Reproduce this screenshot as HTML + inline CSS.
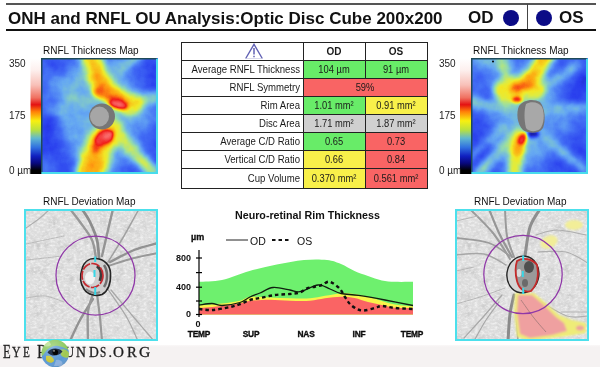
<!DOCTYPE html>
<html><head><meta charset="utf-8">
<style>
html,body{margin:0;padding:0;}
body{will-change:transform;width:600px;height:367px;overflow:hidden;background:#fff;position:relative;font-family:"Liberation Sans",sans-serif;color:#111;}
.a{position:absolute;white-space:nowrap;}
#hdr-top{position:absolute;left:6px;top:3px;width:590px;height:1.5px;background:#555;}
#hdr-bot{position:absolute;left:6px;top:29px;width:590px;height:2px;background:#111;}
#hdr-sep{position:absolute;left:527px;top:4px;width:1px;height:25px;background:#444;}
.title{left:8px;top:8.5px;font-size:17px;font-weight:bold;line-height:20px;}
.eye{font-size:17px;font-weight:bold;line-height:20px;top:8.3px;}
.dot{position:absolute;width:16px;height:16px;border-radius:50%;background:#0b0b86;top:9.5px;}
.maptitle{font-size:10px;line-height:12px;color:#111;}
.lbl{font-size:10px;line-height:12px;color:#222;}
.c{position:absolute;}
.hl{position:absolute;left:181px;width:247px;height:1px;background:#222;}
.vl{position:absolute;width:1px;background:#222;}
.t{position:absolute;white-space:nowrap;color:#1a1a1a;}
.tl{left:182px;width:118px;text-align:right;font-size:10.2px;transform:scaleX(0.94);transform-origin:100% 50%;}
.tv{text-align:center;font-size:10.5px;transform:scaleX(0.89) translateY(-1px);}
.th{text-align:center;font-size:10px;font-weight:bold;}
.g{background:#68ec68;}.y{background:#f8f04a;}.r{background:#f96464;}.gr{background:#d0d0d0;}
#band{position:absolute;left:0;top:345px;width:600px;height:22px;background:linear-gradient(#faf8f8,#f5f2f2 2px,#f5f2f2);}
svg{position:absolute;left:0;top:0;}
.logo span{position:absolute;font-family:"Liberation Serif",serif;line-height:18px;color:#1e1e1e;transform-origin:0 50%;-webkit-text-stroke:0.3px #1e1e1e;}
.ct{font-size:10.7px;font-weight:bold;}
.ax{font-size:9px;font-weight:bold;}
.xl{transform:scaleX(0.88);letter-spacing:-0.2px;-webkit-text-stroke:0.35px #000;font-size:9.5px;}
</style></head><body>
<div id="hdr-top"></div><div id="hdr-bot"></div><div id="hdr-sep"></div>
<div class="a title">ONH and RNFL OU Analysis:Optic Disc Cube 200x200</div>
<div class="a eye" style="left:468px;">OD</div>
<div class="dot" style="left:503px;"></div>
<div class="dot" style="left:536px;"></div>
<div class="a eye" style="left:559px;">OS</div>
<div class="a maptitle" style="left:43px;top:44.5px;">RNFL Thickness Map</div>
<div class="a maptitle" style="left:473px;top:44.5px;">RNFL Thickness Map</div>
<div class="c g" style="left:304px;top:61px;width:61px;height:17px"></div>
<div class="c g" style="left:366px;top:61px;width:61px;height:17px"></div>
<div class="c r" style="left:304px;top:79px;width:123px;height:17px"></div>
<div class="c g" style="left:304px;top:97px;width:61px;height:17px"></div>
<div class="c y" style="left:366px;top:97px;width:61px;height:17px"></div>
<div class="c gr" style="left:304px;top:115px;width:61px;height:17px"></div>
<div class="c gr" style="left:366px;top:115px;width:61px;height:17px"></div>
<div class="c g" style="left:304px;top:133px;width:61px;height:17px"></div>
<div class="c r" style="left:366px;top:133px;width:61px;height:17px"></div>
<div class="c y" style="left:304px;top:151px;width:61px;height:17px"></div>
<div class="c r" style="left:366px;top:151px;width:61px;height:17px"></div>
<div class="c y" style="left:304px;top:169px;width:61px;height:19px"></div>
<div class="c r" style="left:366px;top:169px;width:61px;height:19px"></div>
<div class="hl" style="top:42px"></div>
<div class="hl" style="top:60px"></div>
<div class="hl" style="top:78px"></div>
<div class="hl" style="top:96px"></div>
<div class="hl" style="top:114px"></div>
<div class="hl" style="top:132px"></div>
<div class="hl" style="top:150px"></div>
<div class="hl" style="top:168px"></div>
<div class="hl" style="top:188px"></div>
<div class="vl" style="left:181px;top:42px;height:147px"></div>
<div class="vl" style="left:303px;top:42px;height:147px"></div>
<div class="vl" style="left:427px;top:42px;height:147px"></div>
<div class="vl" style="left:365px;top:42px;height:36px"></div>
<div class="vl" style="left:365px;top:96px;height:93px"></div>
<div class="t tl" style="top:61px;line-height:18px">Average RNFL Thickness</div>
<div class="t tl" style="top:79px;line-height:18px">RNFL Symmetry</div>
<div class="t tl" style="top:97px;line-height:18px">Rim Area</div>
<div class="t tl" style="top:115px;line-height:18px">Disc Area</div>
<div class="t tl" style="top:133px;line-height:18px">Average C/D Ratio</div>
<div class="t tl" style="top:151px;line-height:18px">Vertical C/D Ratio</div>
<div class="t tl" style="top:169px;line-height:20px">Cup Volume</div>
<div class="t th" style="left:303px;width:62px;top:43px;line-height:18px">OD</div>
<div class="t th" style="left:365px;width:62px;top:43px;line-height:18px">OS</div>
<div class="t tv" style="left:303px;width:62px;top:61px;line-height:18px">104 µm</div>
<div class="t tv" style="left:365px;width:62px;top:61px;line-height:18px">91 µm</div>
<div class="t tv" style="left:303px;width:124px;top:79px;line-height:18px">59%</div>
<div class="t tv" style="left:303px;width:62px;top:97px;line-height:18px">1.01 mm²</div>
<div class="t tv" style="left:365px;width:62px;top:97px;line-height:18px">0.91 mm²</div>
<div class="t tv" style="left:303px;width:62px;top:115px;line-height:18px">1.71 mm²</div>
<div class="t tv" style="left:365px;width:62px;top:115px;line-height:18px">1.87 mm²</div>
<div class="t tv" style="left:303px;width:62px;top:133px;line-height:18px">0.65</div>
<div class="t tv" style="left:365px;width:62px;top:133px;line-height:18px">0.73</div>
<div class="t tv" style="left:303px;width:62px;top:151px;line-height:18px">0.66</div>
<div class="t tv" style="left:365px;width:62px;top:151px;line-height:18px">0.84</div>
<div class="t tv" style="left:303px;width:62px;top:169px;line-height:20px">0.370 mm²</div>
<div class="t tv" style="left:365px;width:62px;top:169px;line-height:20px">0.561 mm²</div>
<svg style="left:244px;top:43px" width="20" height="17" viewBox="0 0 20 17"><path d="M1.7,15.5 L10,1.3 L18.3,15.5" fill="none" stroke="#6262b4" stroke-width="1.4"/><path d="M2.5,15.5 H17.5" stroke="#c0c0e0" stroke-width="0.6"/><path d="M10,5 V11.5 M10,12.8 V14.2" stroke="#6262b4" stroke-width="1.5"/></svg>
<svg width="600" height="367" viewBox="0 0 600 367">
<defs>
<filter id="b05" x="-20%" y="-20%" width="140%" height="140%"><feGaussianBlur stdDeviation="0.5"/></filter>
<filter id="b2" x="-30%" y="-30%" width="160%" height="160%"><feGaussianBlur stdDeviation="2"/></filter>
<filter id="jetL" x="0" y="0" width="100%" height="100%" color-interpolation-filters="sRGB">
<feGaussianBlur in="SourceGraphic" stdDeviation="1.8" result="b"/>
<feTurbulence type="fractalNoise" baseFrequency="0.06" numOctaves="3" seed="3" result="n"/>
<feColorMatrix in="n" type="matrix" values="1 0 0 0 0 1 0 0 0 0 1 0 0 0 0 0 0 0 0 1" result="ng"/>
<feComposite in="b" in2="ng" operator="arithmetic" k1="0" k2="1" k3="0.12" k4="-0.06" result="c"/>
<feComponentTransfer in="c"><feFuncR type="table" tableValues="0.000 0.020 0.039 0.059 0.078 0.098 0.118 0.137 0.157 0.186 0.216 0.245 0.275 0.316 0.358 0.400 0.453 0.509 0.566 0.654 0.765 0.875 0.948 0.964 0.980 0.997 0.988 0.974 0.959 0.944 0.948 0.957 0.966 0.975 0.982 0.985 0.988 0.991 0.994 0.997 1.000"/><feFuncG type="table" tableValues="0.000 0.020 0.039 0.059 0.092 0.127 0.163 0.199 0.235 0.290 0.345 0.400 0.455 0.524 0.592 0.661 0.724 0.785 0.846 0.884 0.906 0.928 0.906 0.819 0.732 0.645 0.521 0.387 0.254 0.121 0.155 0.232 0.309 0.385 0.467 0.556 0.645 0.733 0.822 0.911 1.000"/><feFuncB type="table" tableValues="0.000 0.159 0.319 0.478 0.580 0.669 0.757 0.845 0.933 0.941 0.949 0.957 0.965 0.960 0.955 0.950 0.878 0.790 0.702 0.571 0.412 0.252 0.146 0.120 0.094 0.068 0.069 0.077 0.085 0.093 0.155 0.232 0.309 0.385 0.467 0.556 0.645 0.733 0.822 0.911 1.000"/><feFuncA type="linear" slope="0" intercept="1"/></feComponentTransfer>
</filter>
<filter id="jetR" x="0" y="0" width="100%" height="100%" color-interpolation-filters="sRGB">
<feGaussianBlur in="SourceGraphic" stdDeviation="1.8" result="b"/>
<feTurbulence type="fractalNoise" baseFrequency="0.06" numOctaves="3" seed="7" result="n"/>
<feColorMatrix in="n" type="matrix" values="1 0 0 0 0 1 0 0 0 0 1 0 0 0 0 0 0 0 0 1" result="ng"/>
<feComposite in="b" in2="ng" operator="arithmetic" k1="0" k2="1" k3="0.12" k4="-0.06" result="c"/>
<feComponentTransfer in="c"><feFuncR type="table" tableValues="0.000 0.020 0.039 0.059 0.078 0.098 0.118 0.137 0.157 0.186 0.216 0.245 0.275 0.316 0.358 0.400 0.453 0.509 0.566 0.654 0.765 0.875 0.948 0.964 0.980 0.997 0.988 0.974 0.959 0.944 0.948 0.957 0.966 0.975 0.982 0.985 0.988 0.991 0.994 0.997 1.000"/><feFuncG type="table" tableValues="0.000 0.020 0.039 0.059 0.092 0.127 0.163 0.199 0.235 0.290 0.345 0.400 0.455 0.524 0.592 0.661 0.724 0.785 0.846 0.884 0.906 0.928 0.906 0.819 0.732 0.645 0.521 0.387 0.254 0.121 0.155 0.232 0.309 0.385 0.467 0.556 0.645 0.733 0.822 0.911 1.000"/><feFuncB type="table" tableValues="0.000 0.159 0.319 0.478 0.580 0.669 0.757 0.845 0.933 0.941 0.949 0.957 0.965 0.960 0.955 0.950 0.878 0.790 0.702 0.571 0.412 0.252 0.146 0.120 0.094 0.068 0.069 0.077 0.085 0.093 0.155 0.232 0.309 0.385 0.467 0.556 0.645 0.733 0.822 0.911 1.000"/><feFuncA type="linear" slope="0" intercept="1"/></feComponentTransfer>
</filter>
<filter id="b1" x="-30%" y="-30%" width="160%" height="160%"><feGaussianBlur stdDeviation="1"/></filter>
<filter id="b3" x="-30%" y="-30%" width="160%" height="160%"><feGaussianBlur stdDeviation="3"/></filter>
<filter id="b6" x="-50%" y="-50%" width="200%" height="200%"><feGaussianBlur stdDeviation="6"/></filter>
<filter id="b8" x="-50%" y="-50%" width="200%" height="200%"><feGaussianBlur stdDeviation="8"/></filter>
<filter id="tex" x="0" y="0" width="100%" height="100%" color-interpolation-filters="sRGB"><feTurbulence type="fractalNoise" baseFrequency="0.3 0.5" numOctaves="2" seed="4"/><feColorMatrix type="matrix" values="0 0 0 0 1  0 0 0 0 1  0 0 0 0 1  1.5 0 0 0 -0.62"/></filter><filter id="tex2" x="0" y="0" width="100%" height="100%" color-interpolation-filters="sRGB"><feTurbulence type="fractalNoise" baseFrequency="0.12" numOctaves="2" seed="9"/><feColorMatrix type="matrix" values="0 0 0 0 0.55  0 0 0 0 0.55  0 0 0 0 0.55  -1.2 0 0 0 0.62"/></filter>
</defs>
<defs><linearGradient id="cb30" x1="0" y1="0" x2="0" y2="1">
<stop offset="0" stop-color="#ffffff"/>
<stop offset="0.10" stop-color="#fdf0ee"/>
<stop offset="0.23" stop-color="#f8c0b8"/>
<stop offset="0.34" stop-color="#f07060"/>
<stop offset="0.40" stop-color="#e41212"/>
<stop offset="0.46" stop-color="#ff8008"/>
<stop offset="0.54" stop-color="#f8f010"/>
<stop offset="0.62" stop-color="#b8e040"/>
<stop offset="0.69" stop-color="#60b8d0"/>
<stop offset="0.77" stop-color="#3070e0"/>
<stop offset="0.845" stop-color="#1020c0"/>
<stop offset="0.905" stop-color="#080880"/>
<stop offset="0.97" stop-color="#000000"/>
<stop offset="1" stop-color="#000000"/>
</linearGradient></defs>
<rect x="30.5" y="58.5" width="10.5" height="115.5" fill="url(#cb30)"/>
<defs><linearGradient id="cb460" x1="0" y1="0" x2="0" y2="1">
<stop offset="0" stop-color="#ffffff"/>
<stop offset="0.10" stop-color="#fdf0ee"/>
<stop offset="0.23" stop-color="#f8c0b8"/>
<stop offset="0.34" stop-color="#f07060"/>
<stop offset="0.40" stop-color="#e41212"/>
<stop offset="0.46" stop-color="#ff8008"/>
<stop offset="0.54" stop-color="#f8f010"/>
<stop offset="0.62" stop-color="#b8e040"/>
<stop offset="0.69" stop-color="#60b8d0"/>
<stop offset="0.77" stop-color="#3070e0"/>
<stop offset="0.845" stop-color="#1020c0"/>
<stop offset="0.905" stop-color="#080880"/>
<stop offset="0.97" stop-color="#000000"/>
<stop offset="1" stop-color="#000000"/>
</linearGradient></defs>
<rect x="460" y="58.5" width="11" height="115.5" fill="url(#cb460)"/>
<svg x="41" y="58" width="117" height="116" viewBox="0 0 117 116">
<g filter="url(#jetL)">
<rect x="-5" y="-5" width="127" height="126" fill="#454545"/>
<g filter="url(#b6)">
 <ellipse cx="12" cy="76" rx="13" ry="26" fill="#333333"/>
 <ellipse cx="108" cy="20" rx="12" ry="20" fill="#383838"/>
 <ellipse cx="106" cy="92" rx="14" ry="16" fill="#363636"/>
 <ellipse cx="25" cy="112" rx="20" ry="8" fill="#3b3b3b"/>
 <ellipse cx="20" cy="10" rx="14" ry="10" fill="#3d3d3d"/>
</g>
<g filter="url(#b8)">
 <ellipse cx="62" cy="58" rx="44" ry="54" fill="#5e5e5e"/>
 <ellipse cx="36" cy="36" rx="22" ry="28" fill="#666666"/>
</g>
<g filter="url(#b3)" fill="none" stroke-linecap="round" stroke-linejoin="round">
 <path d="M64,62 L112,114" stroke="#7a7a7a" stroke-width="13"/>
 <path d="M72,46 L118,40" stroke="#6b6b6b" stroke-width="12"/>
 <path d="M64,22 L96,-2" stroke="#6b6b6b" stroke-width="12"/>
 <path d="M50,58 L10,52" stroke="#5e5e5e" stroke-width="10"/>
 <path d="M70,72 L106,110" stroke="#878787" stroke-width="7"/>
 <path d="M50,-6 L56,20 L68,36 L92,47" stroke="#8c8c8c" stroke-width="22"/>
 <path d="M68,74 L56,92 L49,120" stroke="#8c8c8c" stroke-width="30"/>
</g>
<g filter="url(#b2)" fill="none" stroke-linecap="round" stroke-linejoin="round">
 <path d="M51,-6 L57,20 L68,36 L84,46" stroke="#999999" stroke-width="8"/>
 <path d="M62,30 L84,46" stroke="#a3a3a3" stroke-width="10"/>
 <path d="M66,76 L56,94 L51,120" stroke="#9e9e9e" stroke-width="15"/>
 <path d="M56,34 L84,47" stroke="#b2b2b2" stroke-width="7"/>
 <path d="M64,76 L55,90" stroke="#b8b8b8" stroke-width="10"/>
</g>
<g filter="url(#b1)">
 <ellipse cx="77" cy="46.5" rx="10" ry="3.8" transform="rotate(14 77 46.5)" fill="#c7c7c7"/>
 <ellipse cx="78" cy="46.5" rx="6" ry="1.8" transform="rotate(14 78 46.5)" fill="#d6d6d6"/>
 <ellipse cx="63" cy="80" rx="10" ry="7" transform="rotate(-30 63 80)" fill="#c4c4c4"/>
 <ellipse cx="67" cy="77" rx="6" ry="3" transform="rotate(-30 67 77)" fill="#d4d4d4"/>
</g>
</g>
<g filter="url(#b05)">
 <circle cx="61" cy="58.5" r="13" fill="#767676"/>
 <ellipse cx="58.5" cy="58.5" rx="9.5" ry="10" fill="#a6a6a6"/>
</g>
<path d="M0.75,116 V0.75 H116" fill="none" stroke="#1e4a5a" stroke-width="1.5"/>
<path d="M116,0.75 V115 H0.5" fill="none" stroke="#48dcec" stroke-width="2"/>
</svg>
<svg x="471" y="58" width="117" height="116" viewBox="0 0 117 116">
<g filter="url(#jetR)">
<rect x="-5" y="-5" width="127" height="126" fill="#454545"/>
<g filter="url(#b6)">
 <ellipse cx="10" cy="85" rx="14" ry="28" fill="#303030"/>
 <ellipse cx="110" cy="30" rx="12" ry="26" fill="#363636"/>
 <ellipse cx="104" cy="102" rx="18" ry="16" fill="#303030"/>
 <ellipse cx="20" cy="45" rx="12" ry="14" fill="#3b3b3b"/>
</g>
<g filter="url(#b8)">
 <ellipse cx="52" cy="60" rx="32" ry="52" fill="#5e5e5e"/>
 <ellipse cx="20" cy="3" rx="22" ry="7" fill="#787878"/>
 <ellipse cx="90" cy="62" rx="20" ry="12" fill="#545454"/>
</g>
<g filter="url(#b3)" fill="none" stroke-linecap="round" stroke-linejoin="round">
 <path d="M48,72 L8,116" stroke="#707070" stroke-width="11"/>
 <path d="M66,72 L114,112" stroke="#6b6b6b" stroke-width="9"/>
 <path d="M44,52 L0,44" stroke="#707070" stroke-width="10"/>
 <path d="M72,52 L118,50" stroke="#696969" stroke-width="9"/>
 <path d="M62,40 L104,8" stroke="#696969" stroke-width="10"/>
 <path d="M42,62 L0,98" stroke="#696969" stroke-width="6"/>
 <path d="M30,0 L40,40" stroke="#787878" stroke-width="10"/>
 <path d="M78,-6 L64,16 L50,28" stroke="#8c8c8c" stroke-width="18"/>
 <path d="M34,32 L62,30" stroke="#8c8c8c" stroke-width="24"/>
 <path d="M47,78 L45,96 L44,120" stroke="#8a8a8a" stroke-width="14"/>
</g>
<g filter="url(#b2)" fill="none" stroke-linecap="round" stroke-linejoin="round">
 <path d="M74,-6 L64,16 L52,27" stroke="#999999" stroke-width="8"/>
 <path d="M42,30 L60,28" stroke="#9e9e9e" stroke-width="9"/>
 <path d="M50,80 L47,94" stroke="#9e9e9e" stroke-width="10"/>
 <path d="M44,30 L58,27" stroke="#b2b2b2" stroke-width="6"/>
</g>
<g filter="url(#b1)">
 <ellipse cx="46" cy="41.5" rx="5" ry="3" fill="#c2c2c2"/>
 <ellipse cx="51" cy="81" rx="3.8" ry="6.5" transform="rotate(25 51 81)" fill="#c4c4c4"/>
 <ellipse cx="62" cy="76" rx="6" ry="3.2" fill="#1a1a1a"/>
</g>
</g>
<g filter="url(#b05)">
 <path d="M48,48 C52,42 62,40 69,44 C74,50 75,62 72,70 C68,76 58,76 52,72 C46,66 45,55 48,48 Z" fill="#767676"/>
 <path d="M55,46 C60,43 68,44 71,49 C74,56 73,66 69,71 C65,74 58,74 55,70 C53,62 53,52 55,46 Z" fill="#a8a8a8"/>
</g>
<circle cx="22" cy="3.5" r="1" fill="#000"/>
<path d="M0.75,116 V0.75 H116" fill="none" stroke="#1e4a5a" stroke-width="1.5"/>
<path d="M116,0.75 V115 H0.5" fill="none" stroke="#48dcec" stroke-width="2"/>
</svg>
<svg x="24" y="209" width="134" height="132" viewBox="0 0 134 132"><rect x="0" y="0" width="134" height="132" fill="#dcdcdc"/>
<rect x="0" y="0" width="134" height="132" filter="url(#tex2)" opacity="0.5"/>
<rect x="0" y="0" width="134" height="132" filter="url(#tex)"/>
<g filter="url(#b05)"><path d="M46.0,0.0 C47.7,2.2 52.3,7.8 56.0,13.0 C59.7,18.2 65.3,25.0 68.0,31.0 C70.7,37.0 71.3,46.0 72.0,49.0" fill="none" stroke="#989898" stroke-width="2.4" stroke-linecap="round"/><path d="M58.0,0.0 C59.3,2.2 63.5,7.8 66.0,13.0 C68.5,18.2 71.5,25.0 73.0,31.0 C74.5,37.0 74.7,46.0 75.0,49.0" fill="none" stroke="#8c8c8c" stroke-width="2.8" stroke-linecap="round"/><path d="M89.0,0.0 C88.2,3.5 85.8,13.2 84.0,21.0 C82.2,28.8 79.0,42.7 78.0,47.0" fill="none" stroke="#949494" stroke-width="2.4" stroke-linecap="round"/><path d="M115.0,0.0 C112.5,4.5 105.2,18.2 100.0,27.0 C94.8,35.8 86.7,48.7 84.0,53.0" fill="none" stroke="#a1a1a1" stroke-width="1.5" stroke-linecap="round"/><path d="M134.0,34.0 C130.0,35.2 118.0,37.8 110.0,41.0 C102.0,44.2 90.0,51.0 86.0,53.0" fill="none" stroke="#929292" stroke-width="2.4" stroke-linecap="round"/><path d="M134.0,44.0 C130.0,44.8 118.3,46.8 110.0,49.0 C101.7,51.2 88.3,55.7 84.0,57.0" fill="none" stroke="#989898" stroke-width="1.9" stroke-linecap="round"/><path d="M26.0,0.0 C24.3,1.5 20.0,5.8 16.0,9.0 C12.0,12.2 4.3,17.3 2.0,19.0" fill="none" stroke="#aeaeae" stroke-width="1.1" stroke-linecap="round"/><path d="M2.0,35.0 C5.2,34.3 14.7,32.3 21.0,31.0 C27.3,29.7 36.8,27.7 40.0,27.0" fill="none" stroke="#b6b6b6" stroke-width="0.9" stroke-linecap="round"/><path d="M2.0,51.0 C5.2,50.7 15.0,49.7 21.0,49.0 C27.0,48.3 35.2,47.3 38.0,47.0" fill="none" stroke="#b6b6b6" stroke-width="0.9" stroke-linecap="round"/><path d="M2.0,89.0 C5.2,88.7 14.7,86.3 21.0,87.0 C27.3,87.7 36.8,92.0 40.0,93.0" fill="none" stroke="#b6b6b6" stroke-width="0.9" stroke-linecap="round"/><path d="M46.0,132.0 C47.7,128.5 52.2,118.0 56.0,111.0 C59.8,104.0 66.8,93.5 69.0,90.0" fill="none" stroke="#929292" stroke-width="2.4" stroke-linecap="round"/><path d="M69.0,85.0 C68.2,88.0 64.8,95.2 64.0,103.0 C63.2,110.8 64.0,127.2 64.0,132.0" fill="none" stroke="#989898" stroke-width="2.4" stroke-linecap="round"/><path d="M73.0,85.0 C73.5,89.0 75.2,101.2 76.0,109.0 C76.8,116.8 77.7,128.2 78.0,132.0" fill="none" stroke="#989898" stroke-width="2.2" stroke-linecap="round"/><path d="M83.0,79.0 C86.2,83.7 96.8,98.2 102.0,107.0 C107.2,115.8 112.0,127.8 114.0,132.0" fill="none" stroke="#a8a8a8" stroke-width="1.3" stroke-linecap="round"/><path d="M87.0,81.0 C91.2,86.0 104.8,102.5 112.0,111.0 C119.2,119.5 127.0,128.5 130.0,132.0" fill="none" stroke="#a8a8a8" stroke-width="1.3" stroke-linecap="round"/></g>
<circle cx="71.5" cy="66.5" r="39.5" fill="none" stroke="#9038a8" stroke-width="1.25"/>
<path d="M58,60 C60,52 66,49 72,49.5 C80,50 86,56 86.5,64 C87,74 84,82 78,85.5 C72,87.5 64,86 60,80 C56,74 56,66 58,60 Z" fill="#cfcfcf" stroke="#262626" stroke-width="1.6"/>
<g filter="url(#b05)">
<ellipse cx="66" cy="69" rx="5" ry="6.5" fill="#f2f2f2"/>
<path d="M73,57 C77,60 78,66 76,72" stroke="#3a3a3a" stroke-width="3" fill="none"/>
<path d="M80,56 C84,62 84,72 80,78" stroke="#707070" stroke-width="2.5" fill="none"/>
<path d="M62,80 C66,84 72,85 76,83" stroke="#8a8a8a" stroke-width="2" fill="none"/>
</g>
<ellipse cx="68.5" cy="66.5" rx="10.5" ry="12" fill="none" stroke="#c42a30" stroke-width="1.7" stroke-dasharray="9 1.3"/>
<path d="M71.2,47.5 V53 M70.5,61 V68 M71.2,78 V86" stroke="#38d8e8" stroke-width="2"/>
<rect x="1" y="1" width="132" height="130" fill="none" stroke="#4ce0ec" stroke-width="2"/>
</svg>
<svg x="455" y="209" width="134" height="132" viewBox="0 0 134 132"><rect x="0" y="0" width="134" height="132" fill="#dcdcdc"/>
<rect x="0" y="0" width="134" height="132" filter="url(#tex2)" opacity="0.5"/>
<rect x="0" y="0" width="134" height="132" filter="url(#tex)"/>
<g filter="url(#b05)"><path d="M15.0,0.0 C18.8,4.0 31.3,15.7 38.0,24.0 C44.7,32.3 52.2,45.7 55.0,50.0" fill="none" stroke="#9a9a9a" stroke-width="2.0" stroke-linecap="round"/><path d="M34.0,0.0 C35.7,4.0 40.2,16.0 44.0,24.0 C47.8,32.0 54.8,44.0 57.0,48.0" fill="none" stroke="#969696" stroke-width="2.2" stroke-linecap="round"/><path d="M50.0,0.0 C50.3,4.5 50.5,19.0 52.0,27.0 C53.5,35.0 57.8,44.5 59.0,48.0" fill="none" stroke="#9a9a9a" stroke-width="2.0" stroke-linecap="round"/><path d="M85.0,0.0 C83.3,3.0 77.5,10.2 75.0,18.0 C72.5,25.8 70.8,42.2 70.0,47.0" fill="none" stroke="#8e8e8e" stroke-width="3.0" stroke-linecap="round"/><path d="M1.0,29.0 C6.5,29.8 25.0,31.0 34.0,34.0 C43.0,37.0 51.5,44.8 55.0,47.0" fill="none" stroke="#9c9c9c" stroke-width="1.8" stroke-linecap="round"/><path d="M1.0,46.0 C5.7,45.8 20.7,43.3 29.0,45.0 C37.3,46.7 47.3,54.2 51.0,56.0" fill="none" stroke="#a6a6a6" stroke-width="1.4" stroke-linecap="round"/><path d="M1.0,12.0 L23.0,7.0" fill="none" stroke="#b6b6b6" stroke-width="1.0" stroke-linecap="round"/><path d="M1.0,62.0 L19.0,58.0" fill="none" stroke="#b6b6b6" stroke-width="1.0" stroke-linecap="round"/><path d="M81.0,26.0 C84.5,25.2 93.7,21.0 102.0,21.0 C110.3,21.0 126.2,25.2 131.0,26.0" fill="none" stroke="#aeaeae" stroke-width="1.2" stroke-linecap="round"/><path d="M83.0,43.0 C87.7,43.0 102.7,41.2 111.0,43.0 C119.3,44.8 129.3,52.2 133.0,54.0" fill="none" stroke="#aeaeae" stroke-width="1.2" stroke-linecap="round"/><path d="M59.0,86.0 C58.3,89.2 56.0,97.3 55.0,105.0 C54.0,112.7 53.3,127.5 53.0,132.0" fill="none" stroke="#8a8a8a" stroke-width="3.0" stroke-linecap="round"/><path d="M47.0,86.0 C44.0,89.5 35.3,99.8 29.0,107.0 C22.7,114.2 12.3,125.3 9.0,129.0" fill="none" stroke="#a8a8a8" stroke-width="1.2" stroke-linecap="round"/><path d="M44.0,93.0 C41.8,96.0 35.2,104.5 31.0,111.0 C26.8,117.5 21.0,128.5 19.0,132.0" fill="none" stroke="#a8a8a8" stroke-width="1.2" stroke-linecap="round"/><path d="M61.0,101.0 L63.0,132.0" fill="none" stroke="#9c9c9c" stroke-width="1.6" stroke-linecap="round"/><path d="M1.0,95.0 C5.0,93.8 16.8,90.7 25.0,88.0 C33.2,85.3 45.8,80.5 50.0,79.0" fill="none" stroke="#b6b6b6" stroke-width="1.0" stroke-linecap="round"/><path d="M83.0,91.0 C87.8,93.7 103.7,104.3 112.0,107.0 C120.3,109.7 129.5,107.0 133.0,107.0" fill="none" stroke="#aeaeae" stroke-width="1.1" stroke-linecap="round"/><path d="M106.0,103.0 L133.0,103.0" fill="none" stroke="#b6b6b6" stroke-width="1.0" stroke-linecap="round"/></g>
<g filter="url(#b1)">
<polygon points="60.0,84.0 79.0,84.0 92.0,95.0 104.0,106.0 117.0,111.0 131.0,114.0 131.0,124.0 113.0,127.0 97.0,129.0 75.0,132.0 62.0,128.0 59.0,103.0" fill="#eeec78"/>
<polygon points="63.0,86.0 77.0,86.0 90.0,97.0 101.0,108.0 109.0,114.0 112.0,122.0 97.0,126.0 75.0,129.0 65.0,125.0 62.0,103.0" fill="#efa0a0"/>
<ellipse cx="125" cy="119" rx="4" ry="2.5" fill="#efa0a0"/>
<ellipse cx="119" cy="16" rx="9" ry="5" fill="#f2ee98"/>
<ellipse cx="94" cy="33" rx="9" ry="6" transform="rotate(-25 94 33)" fill="#f2ee98"/>
</g>
<path d="M66.0,91.0 C68.2,94.0 74.8,103.7 79.0,109.0 C83.2,114.3 89.0,120.7 91.0,123.0" fill="none" stroke="#b08080" stroke-width="1"/>
<circle cx="68" cy="65.5" r="39.2" fill="none" stroke="#9038a8" stroke-width="1.25"/>
<ellipse cx="67.9" cy="65.5" rx="16" ry="18.4" transform="rotate(8 67.9 65.5)" fill="#d4d4d4" stroke="#262626" stroke-width="1.4"/>
<g filter="url(#b05)">
<path d="M62,52 C68,48 78,50 82,56 C84,66 82,76 76,82 C70,84 64,80 62,72 C60,64 60,58 62,52 Z" fill="#9a9a9a"/>
<ellipse cx="74" cy="58" rx="5" ry="6" fill="#505050"/>
<ellipse cx="70" cy="74" rx="3" ry="4" fill="#6a6a6a"/>
<ellipse cx="64" cy="64" rx="2.5" ry="4" fill="#d8d8d8"/>
</g>
<path d="M62,52 C68,48 78,50 82,56 C84,66 82,76 76,82 C70,84 64,80 62,72 C60,64 60,58 62,52 Z" fill="none" stroke="#c42a2a" stroke-width="1.8"/>
<path d="M68.2,46.5 V52 M67.8,62 V68 M68.2,79 V85" stroke="#38d8e8" stroke-width="2"/>
<rect x="1" y="1" width="132" height="130" fill="none" stroke="#4ce0ec" stroke-width="2"/>
</svg>
<path d="M199.0,281.8 C202.8,281.5 213.6,281.8 222.0,280.0 C230.4,278.2 240.4,273.6 249.5,271.0 C258.6,268.4 267.7,266.4 276.8,264.6 C285.9,262.8 295.6,260.8 304.0,260.0 C312.4,259.2 320.8,259.3 327.0,260.0 C333.2,260.7 336.4,262.2 341.0,264.0 C345.6,265.8 350.0,269.0 354.5,271.0 C359.0,273.0 363.4,274.4 368.0,276.0 C372.6,277.6 377.3,279.4 381.8,280.4 C386.3,281.4 389.8,281.6 395.0,281.8 C400.2,282.0 410.0,281.8 413.0,281.8 L413,314.5 L199,314.5 Z" fill="#6ef06e"/>
<path d="M199.0,305.5 C202.8,305.2 215.2,304.4 222.0,303.6 C228.8,302.8 235.4,301.9 240.0,300.8 C244.6,299.7 244.5,297.6 249.5,297.0 C254.5,296.4 263.2,297.3 270.0,297.5 C276.8,297.7 283.3,298.2 290.0,298.3 C296.7,298.4 304.2,298.7 310.0,298.3 C315.8,297.9 319.8,296.6 325.0,295.8 C330.2,295.0 336.1,293.8 341.0,293.5 C345.9,293.2 350.0,293.4 354.5,294.0 C359.0,294.6 363.4,295.7 368.0,296.8 C372.6,297.9 377.3,299.6 381.8,300.9 C386.3,302.2 389.8,303.5 395.0,304.4 C400.2,305.3 410.0,306.0 413.0,306.3 L413,314.5 L199,314.5 Z" fill="#f8f44a"/>
<path d="M199.0,308.0 C202.8,307.7 215.2,306.8 222.0,306.0 C228.8,305.2 235.4,304.1 240.0,303.3 C244.6,302.5 244.5,301.6 249.5,301.0 C254.5,300.4 263.2,299.7 270.0,299.7 C276.8,299.7 283.3,300.6 290.0,300.8 C296.7,301.0 304.2,301.2 310.0,300.8 C315.8,300.4 319.8,299.0 325.0,298.3 C330.2,297.6 336.1,296.8 341.0,296.7 C345.9,296.6 350.0,297.1 354.5,298.0 C359.0,298.9 363.4,300.8 368.0,302.0 C372.6,303.2 377.3,304.1 381.8,305.0 C386.3,305.9 389.8,307.2 395.0,307.7 C400.2,308.2 410.0,307.9 413.0,308.0 L413,314.5 L199,314.5 Z" fill="#fa6464"/>
<path d="M199.0,305.0 C201.2,304.8 208.2,303.4 212.0,303.5 C215.8,303.6 217.3,305.7 222.0,305.5 C226.7,305.3 235.3,303.9 240.0,302.5 C244.7,301.1 246.7,298.6 250.0,297.0 C253.3,295.4 256.2,294.6 260.0,293.0 C263.8,291.4 268.0,288.0 273.0,287.5 C278.0,287.0 285.5,289.3 290.0,290.0 C294.5,290.7 295.3,292.5 300.0,291.7 C304.7,290.9 313.0,285.4 318.0,285.0 C323.0,284.6 326.2,287.6 330.0,289.0 C333.8,290.4 336.2,292.4 341.0,293.5 C345.8,294.6 351.3,294.3 358.6,295.4 C365.9,296.5 375.9,298.3 385.0,300.0 C394.1,301.7 408.3,304.6 413.0,305.5" fill="none" stroke="#102010" stroke-width="1.3"/>
<path d="M199.0,309.0 C201.2,309.2 206.8,310.3 212.0,310.0 C217.2,309.7 225.3,308.0 230.0,307.0 C234.7,306.0 236.7,305.4 240.0,304.2 C243.3,303.0 246.7,301.0 250.0,300.0 C253.3,299.0 255.8,298.8 260.0,298.0 C264.2,297.2 270.0,295.7 275.0,295.0 C280.0,294.3 285.8,294.4 290.0,294.0 C294.2,293.6 297.2,293.4 300.0,292.5 C302.8,291.6 304.5,289.3 307.0,288.3 C309.5,287.3 312.5,287.2 315.0,286.7 C317.5,286.1 319.8,285.8 322.0,285.0 C324.2,284.2 326.2,282.0 328.0,281.7 C329.8,281.4 331.0,282.1 333.0,283.3 C335.0,284.5 338.0,286.7 340.0,289.0 C342.0,291.3 343.3,294.5 345.0,297.0 C346.7,299.5 348.0,302.0 350.0,304.0 C352.0,306.0 354.7,307.9 357.0,309.0 C359.3,310.1 361.0,310.7 364.0,310.5 C367.0,310.3 372.0,308.8 375.0,308.0 C378.0,307.2 378.7,306.0 382.0,306.0 C385.3,306.0 389.8,307.5 395.0,308.0 C400.2,308.5 410.0,308.8 413.0,309.0" fill="none" stroke="#101010" stroke-width="2.4" stroke-dasharray="3.5 3"/>
<path d="M199,250 V317" stroke="#000" stroke-width="1.2"/>
<path d="M196,258 H202" stroke="#000" stroke-width="1.2"/>
<path d="M196,272.6 H202" stroke="#000" stroke-width="1.2"/>
<path d="M196,287.2 H202" stroke="#000" stroke-width="1.2"/>
<path d="M196,301 H202" stroke="#000" stroke-width="1.2"/>
<path d="M196,314.5 H202" stroke="#000" stroke-width="1.2"/>
<path d="M226,240 H248" stroke="#222" stroke-width="1"/>
<path d="M272,240 H291" stroke="#111" stroke-width="2.2" stroke-dasharray="3.5 3"/>
</svg>
<div class="a ct" style="left:235px;top:209px;">Neuro-retinal Rim Thickness</div>
<div class="a ax" style="left:191px;top:232px;-webkit-text-stroke:0.3px #000">µm</div>
<div class="a ax" style="left:250px;top:234.5px;font-weight:normal;font-size:10.5px">OD</div>
<div class="a ax" style="left:297px;top:234.5px;font-weight:normal;font-size:10.5px">OS</div>
<div class="a ax" style="left:173px;top:253px;width:18px;text-align:right">800</div>
<div class="a ax" style="left:173px;top:282px;width:18px;text-align:right">400</div>
<div class="a ax" style="left:173px;top:309px;width:18px;text-align:right">0</div>
<div class="a ax" style="left:195.5px;top:319px;">0</div>
<div class="a ax xl" style="left:184px;top:328px;width:30px;text-align:center">TEMP</div>
<div class="a ax xl" style="left:236px;top:328px;width:30px;text-align:center">SUP</div>
<div class="a ax xl" style="left:291px;top:328px;width:30px;text-align:center">NAS</div>
<div class="a ax xl" style="left:344px;top:328px;width:30px;text-align:center">INF</div>
<div class="a ax xl" style="left:397px;top:328px;width:30px;text-align:center">TEMP</div>
<div class="a lbl" style="left:9px;top:58px;">350</div>
<div class="a lbl" style="left:9px;top:110px;">175</div>
<div class="a lbl" style="left:9px;top:164.5px;">0 µm</div>
<div class="a lbl" style="left:439px;top:58px;">350</div>
<div class="a lbl" style="left:439px;top:110px;">175</div>
<div class="a lbl" style="left:439px;top:164.5px;">0 µm</div>
<div class="a maptitle" style="left:43px;top:196px;">RNFL Deviation Map</div>
<div class="a maptitle" style="left:474px;top:196px;">RNFL Deviation Map</div>
<div id="band"></div>
<div class="logo"><span style="left:2.5px;font-size:18px;top:342.82px;transform:scaleX(0.7)">E</span><span style="left:11.9px;font-size:14px;top:344.18px;transform:scaleX(0.85)">Y</span><span style="left:23.0px;font-size:14px;top:344.18px;transform:scaleX(0.8)">E</span><span style="left:37.0px;font-size:18px;top:342.82px;transform:scaleX(0.85)">R</span><span style="left:65.0px;font-size:14px;top:344.18px;transform:scaleX(0.9)">U</span><span style="left:76.0px;font-size:14px;top:344.18px;transform:scaleX(0.98)">N</span><span style="left:89.0px;font-size:14px;top:344.18px;transform:scaleX(0.97)">D</span><span style="left:100.3px;font-size:14px;top:344.18px;transform:scaleX(0.8)">S</span><span style="left:108.5px;font-size:14px;top:344.18px;transform:scaleX(1)">.</span><span style="left:113.3px;font-size:14px;top:344.18px;transform:scaleX(1.08)">O</span><span style="left:126.8px;font-size:14px;top:344.18px;transform:scaleX(1.05)">R</span><span style="left:139.3px;font-size:14px;top:344.18px;transform:scaleX(1.12)">G</span></div>
<svg width="600" height="367"><defs>
<radialGradient id="gsh" cx="0.4" cy="0.3" r="0.75"><stop offset="0" stop-color="#fff" stop-opacity="0.3"/><stop offset="0.6" stop-color="#fff" stop-opacity="0"/><stop offset="1" stop-color="#102030" stop-opacity="0.35"/></radialGradient>
<clipPath id="gcp"><circle cx="55.2" cy="353.5" r="13.8"/></clipPath>
<filter id="gb" x="-20%" y="-20%" width="140%" height="140%"><feGaussianBlur stdDeviation="0.7"/></filter></defs>
<g clip-path="url(#gcp)"><g filter="url(#gb)">
<rect x="40" y="338" width="32" height="32" fill="#5a98d4"/>
<path d="M40,338 H72 V352 C68,350 64,347 58,346 C52,345 47,349 44,354 L40,358 Z" fill="#8cc860"/>
<path d="M52,338 C58,339 64,341 70,346 V338 Z" fill="#d8ecc8"/>
<path d="M43,340 C47,339 50,341 51,345 C48,347 45,347 43,345 Z" fill="#b8e090"/>
<path d="M60,350 C64,348 69,350 70,356 C68,359 63,358 61,355 Z" fill="#a0c850"/>
<path d="M46,356 C50,355 54,357 54,361 C52,364 48,363 46,360 Z" fill="#c8c83c"/>
<path d="M56,360 C60,359 64,362 62,366 H54 Z" fill="#88b0e0"/>
<rect x="40" y="338" width="32" height="32" fill="url(#gsh)"/>
</g></g>
<path d="M47.5,352.5 C50,348 58,347 62.5,351.5 C59,356.5 51,357 47.5,352.5 Z" fill="#243048" filter="url(#gb)"/>
<circle cx="55.3" cy="352.2" r="2.8" fill="#050505"/>
<circle cx="54" cy="350.9" r="0.8" fill="#fff" opacity="0.7"/>
</svg>
</body></html>
